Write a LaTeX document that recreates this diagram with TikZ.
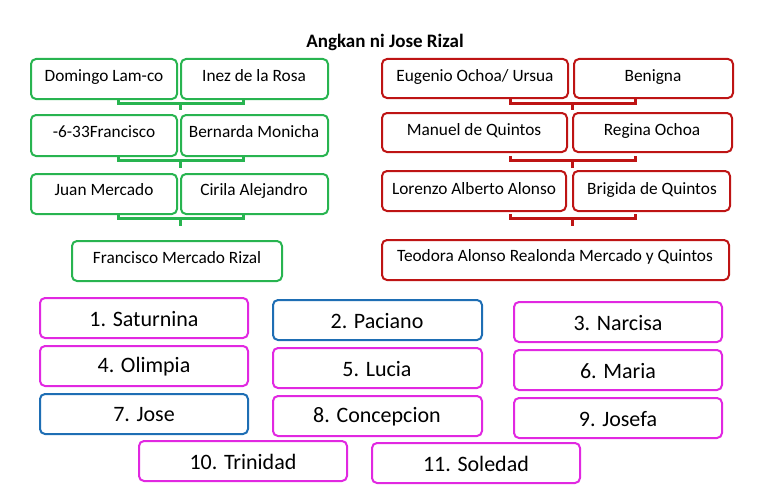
\documentclass[tikz,border=0pt]{standalone}
\usepackage{fontspec}
\setmainfont{Carlito}
\definecolor{gr}{RGB}{40,180,80}
\definecolor{rd}{RGB}{190,20,20}
\definecolor{mg}{RGB}{225,40,225}
\definecolor{bl}{RGB}{30,110,180}
\begin{document}
\begin{tikzpicture}[x=1pt,y=-1pt,
 bx/.style={draw=#1,line width=2pt,rounded corners=5pt,fill=white},
 lk/.style={draw=#1,line width=3pt}]
\useasboundingbox (0,0) rectangle (768,503);
\node[font=\bfseries\fontsize{19}{22}\selectfont] (title) at (385,42) {Angkan ni Jose Rizal};
% brackets
\foreach \y/\z in {103/110,160/168,218/226}{
 \draw[lk=gr] (118,\y-4) -- (118,\y) -- (243,\y) -- (243,\y-4); \draw[lk=gr] (180,\y)--(180,\z);
 \draw[lk=rd] (510,\y-4) -- (510,\y) -- (635,\y) -- (635,\y-4); \draw[lk=rd] (572,\y)--(572,\z);}
\tikzset{tb/.style={font=\fontsize{17.3}{20}\selectfont}, bt/.style={font=\fontsize{22}{25}\selectfont}}
\draw[bx=gr] (31,59) rectangle (177,99); \node[tb] (a1) at (104,77) {Domingo Lam-co};
\draw[bx=gr] (181,59) rectangle (328,99); \node[tb] (a2) at (254,76) {Inez de la Rosa};
\draw[bx=gr] (31,115) rectangle (177,156); \node[tb] (a3) at (104,132) {-6-33Francisco};
\draw[bx=gr] (181,115) rectangle (328,156); \node[tb] (a4) at (254,132) {Bernarda Monicha};
\draw[bx=gr] (31,174) rectangle (177,214); \node[tb] (a5) at (104,190) {Juan Mercado};
\draw[bx=gr] (181,174) rectangle (328,214); \node[tb] (a6) at (254,191) {Cirila Alejandro};
\draw[bx=gr] (72,241) rectangle (282,281); \node[tb] (a7) at (177,258) {Francisco Mercado Rizal};
\draw[bx=rd] (382,59) rectangle (568,98); \node[tb] (b1) at (475,77) {Eugenio Ochoa/ Ursua};
\draw[bx=rd] (574,59) rectangle (733,98); \node[tb] (b2) at (653,77) {Benigna};
\draw[bx=rd] (382,113) rectangle (567,152); \node[tb] (b3) at (474,131) {Manuel de Quintos};
\draw[bx=rd] (573,113) rectangle (732,152); \node[tb] (b4) at (652,131) {Regina Ochoa};
\draw[bx=rd] (382,171) rectangle (566,211); \node[tb] (b5) at (474,189) {Lorenzo Alberto Alonso};
\draw[bx=rd] (573,171) rectangle (730,211); \node[tb] (b6) at (652,190) {Brigida de Quintos};
\draw[bx=rd] (382,240) rectangle (729,280); \node[tb] (b7) at (555,257) {Teodora Alonso Realonda Mercado y Quintos};
\draw[bx=mg] (40,298) rectangle (248,338); \node[bt] (c1) at (144,319) {1. Saturnina};
\draw[bx=bl] (273,300) rectangle (482,340); \node[bt] (c2) at (377,321) {2. Paciano};
\draw[bx=mg] (514,302) rectangle (722,342); \node[bt] (c3) at (618,323) {3. Narcisa};
\draw[bx=mg] (40,346) rectangle (248,386); \node[bt] (c4) at (144,367) {4. Olimpia};
\draw[bx=mg] (273,348) rectangle (482,388); \node[bt] (c5) at (377,369) {5. Lucia};
\draw[bx=mg] (514,350) rectangle (722,390); \node[bt] (c6) at (618,371) {6. Maria};
\draw[bx=bl] (40,394) rectangle (248,434); \node[bt] (c7) at (144,415) {7. Jose};
\draw[bx=mg] (273,396) rectangle (482,436); \node[bt] (c8) at (377,417) {8. Concepcion};
\draw[bx=mg] (514,398) rectangle (722,438); \node[bt] (c9) at (618,419) {9. Josefa};
\draw[bx=mg] (139,441) rectangle (347,481); \node[bt] (c10) at (243,462) {10. Trinidad};
\draw[bx=mg] (372,443) rectangle (580,483); \node[bt] (c11) at (476,464) {11. Soledad};
\end{tikzpicture}
\end{document}
